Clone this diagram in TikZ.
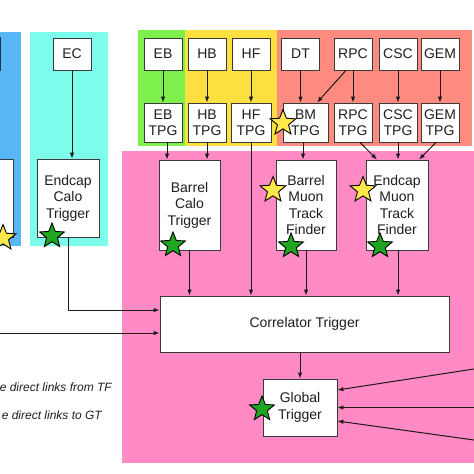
\documentclass[tikz,border=0pt]{standalone}
\usepackage{fontspec}
\setmainfont{Liberation Sans}
\usetikzlibrary{arrows.meta,shapes.geometric}
\definecolor{cblue}{HTML}{58B6F6}
\definecolor{ccyan}{HTML}{7DFCEC}
\definecolor{cgreen}{HTML}{7EF04C}
\definecolor{cyellow}{HTML}{FEE040}
\definecolor{csalmon}{HTML}{FE8A80}
\definecolor{cpink}{HTML}{FF8AC4}
\definecolor{syellow}{HTML}{FFE94A}
\definecolor{sgreen}{HTML}{1FA51F}
\definecolor{bord}{HTML}{3A3A3A}
\definecolor{lin}{HTML}{1A1A1A}
\definecolor{txt}{HTML}{1E1E1E}
\begin{document}
\begin{tikzpicture}[x=1pt,y=-1pt,
  box/.style={draw=bord,line width=0.8pt,fill=white,inner sep=0pt,
    text=txt,font=\fontsize{14}{16.5}\selectfont,align=center},
  arr/.style={draw=lin,line width=1pt,-{Latex[length=6pt,width=4.5pt]}},
  ystar/.style={star,star points=5,star point ratio=2.3,minimum size=27pt,
    inner sep=0pt,draw=black,line width=0.9pt,fill=syellow},
  gstar/.style={star,star points=5,star point ratio=2.3,minimum size=26pt,
    inner sep=0pt,draw=black,line width=0.9pt,fill=sgreen},
  note/.style={font=\fontsize{12}{14}\selectfont\itshape,text=txt,anchor=east,inner sep=0pt}
]
\useasboundingbox (0,0) rectangle (474,474);
\clip (0,0) rectangle (474,474);
\fill[white] (0,0) rectangle (474,474);
% coloured regions
\fill[cblue] (0,32) rectangle (21,246);
\fill[ccyan] (30,32) rectangle (108,246);
\fill[cgreen] (138,30) rectangle (185,146);
\fill[cyellow] (185,30) rectangle (277,146);
\fill[csalmon] (277,30) rectangle (472,146);
\fill[cpink] (122,151) rectangle (474,463);

% partial boxes on the left edge
\node[box,draw=black!70!cblue,line width=1.2pt,minimum width=40pt,minimum height=32pt] (LT) at (-19.2,54) {};
\node[box,minimum width=62pt,minimum height=78pt] (LB) at (-18,198) {};

% top row
\node[box,minimum width=38pt,minimum height=32pt] (EC) at (72,54) {EC};
\node[box,minimum width=38pt,minimum height=32pt] (EB) at (163,54) {EB};
\node[box,minimum width=38pt,minimum height=32pt] (HB) at (207,54) {HB};
\node[box,minimum width=38pt,minimum height=32pt] (HF) at (251,54) {HF};
\node[box,minimum width=38pt,minimum height=32pt] (DT) at (300.5,54) {DT};
\node[box,minimum width=38pt,minimum height=32pt] (RPC) at (353,54) {RPC};
\node[box,minimum width=38pt,minimum height=32pt] (CSC) at (398,54) {CSC};
\node[box,minimum width=38pt,minimum height=32pt] (GEM) at (440,54) {GEM};

% TPG row
\node[box,minimum width=38pt,minimum height=39pt] (EBTPG) at (163,122.5) {EB\\TPG};
\node[box,minimum width=38pt,minimum height=39pt] (HBTPG) at (207,122.5) {HB\\TPG};
\node[box,minimum width=40pt,minimum height=39pt] (HFTPG) at (251,122.5) {HF\\TPG};
\node[box,minimum width=45pt,minimum height=39pt] (BMTPG) at (305.5,122.5) {BM\\TPG};
\node[box,minimum width=38pt,minimum height=39pt] (RPCTPG) at (353,122.5) {RPC\\TPG};
\node[box,minimum width=38pt,minimum height=39pt] (CSCTPG) at (398,122.5) {CSC\\TPG};
\node[box,minimum width=38pt,minimum height=39pt] (GEMTPG) at (440,122.5) {GEM\\TPG};

% trigger boxes
\node[box,minimum width=62pt,minimum height=78pt] (ECT) at (68,198) {Endcap\\Calo\\Trigger};
\node[box,minimum width=61pt,minimum height=90pt] (BCT) at (189.5,205) {Barrel\\Calo\\Trigger};
\node[box,minimum width=60pt,minimum height=90pt] (BMTF) at (306,205) {Barrel\\Muon\\Track\\Finder};
\node[box,minimum width=62pt,minimum height=90pt] (EMTF) at (397,205) {Endcap\\Muon\\Track\\Finder};
\node[box,minimum width=289pt,minimum height=56pt] (CT) at (304.5,324) {Correlator Trigger};
\node[box,minimum width=74pt,minimum height=57pt] (GT) at (300,407.5) {Global\\Trigger};

% arrows top -> TPG
\draw[arr] (EB.south) -- (EB.south |- EBTPG.north);
\draw[arr] (HB.south) -- (HB.south |- HBTPG.north);
\draw[arr] (HF.south) -- (HF.south |- HFTPG.north);
\draw[arr] (DT.south) -- (DT.south |- BMTPG.north);
\draw[arr] ([xshift=-7pt]RPC.south) -- ([xshift=11.5pt]BMTPG.north);
\draw[arr] (RPC.south) -- (RPC.south |- RPCTPG.north);
\draw[arr] (CSC.south) -- (CSC.south |- CSCTPG.north);
\draw[arr] (GEM.south) -- (GEM.south |- GEMTPG.north);
\draw[arr] (EC.south) -- (EC.south |- ECT.north);

% TPG -> trigger
\draw[arr] ([xshift=4pt]EBTPG.south) -- ([xshift=4pt]EBTPG.south |- BCT.north);
\draw[arr] (HBTPG.south) -- (HBTPG.south |- BCT.north);
\draw[arr] (HFTPG.south) -- (HFTPG.south |- CT.north);
\draw[arr] ([xshift=-2.5pt]BMTPG.south) -- ([xshift=-2.5pt]BMTPG.south |- BMTF.north);
\draw[arr] ([xshift=7pt]RPCTPG.south) -- ([xshift=-20pt]EMTF.north);
\draw[arr] (CSCTPG.south) -- (CSCTPG.south |- EMTF.north);
\draw[arr] ([xshift=-4pt]GEMTPG.south) -- ([xshift=22pt]EMTF.north);

% trigger -> correlator
\draw[arr] (BCT.south) -- (BCT.south |- CT.north);
\draw[arr] (BMTF.south) -- (BMTF.south |- CT.north);
\draw[arr] ([xshift=1pt]EMTF.south) -- ([xshift=1pt]EMTF.south |- CT.north);
\draw[arr] (ECT.south) |- ([yshift=14pt]CT.west);
\coordinate (lin1) at (0,333);
\draw[arr] (lin1) -- (lin1 -| CT.west);

% correlator -> GT
\draw[arr] (GT.north |- CT.south) -- (GT.north);
\coordinate (r1) at (474,369);
\coordinate (r2) at (474,407.5);
\coordinate (r3) at (474,440);
\draw[arr] (r1) -- ([yshift=17.5pt]GT.east);
\draw[arr] (r2) -- (GT.east);
\draw[arr] (r3) -- ([yshift=-13.5pt]GT.east);

% stars
\node[ystar] (sy0) at (3,238) {};
\node[gstar] (sg1) at (52,236) {};
\node[ystar] (sy1) at (283,123) {};
\node[gstar] (sg2) at (173,245) {};
\node[ystar] (sy2) at (273,190) {};
\node[gstar] (sg3) at (291,246) {};
\node[ystar] (sy3) at (363,190) {};
\node[gstar] (sg4) at (380,246) {};
\node[gstar] (sg5) at (262,409) {};

% notes
\node[note] (n1) at (112,387) {e direct links from TF};
\node[note] (n2) at (102,415) {e direct links to GT};
\end{tikzpicture}
\end{document}
